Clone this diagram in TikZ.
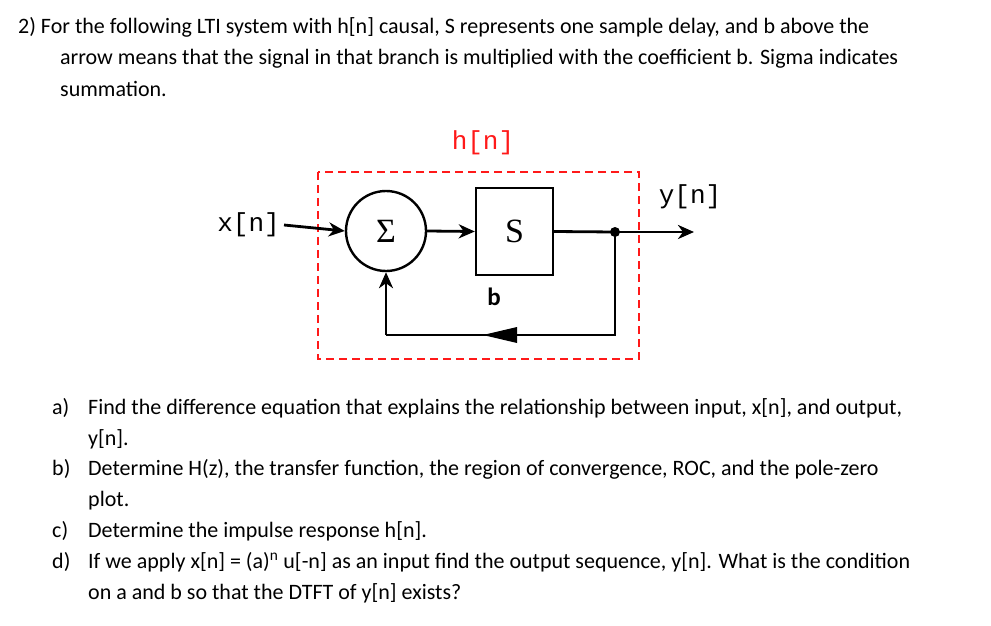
\documentclass[tikz,border=0pt]{standalone}
\usepackage{fontspec}
\setmainfont{Carlito}
\newfontfamily\mono{Liberation Mono}
\newfontfamily\serifs{Liberation Serif}
\usetikzlibrary{arrows.meta}
\begin{document}
\begin{tikzpicture}[x=1pt,y=-1pt,
  txt/.style={anchor=base west,inner sep=0pt,font=\fontsize{22}{24}\selectfont},
  lbl/.style={inner sep=0pt,font=\mono\fontsize{26}{28}\selectfont},
  sig/.style={line width=2.8pt,-{Stealth[length=16pt,width=14pt,inset=5pt]}},
  ln/.style={line width=2.8pt}]
\useasboundingbox (0,0) rectangle (991,626);
\node[txt] (t1) at (18,34) {2) For the following LTI system with h[n] causal, S represents one sample delay, and b above the};
\node[txt] (t2) at (60,65) {arrow means that the signal in that branch is multiplied with the coefficient b. Sigma indicates};
\node[txt] (t3) at (60,96) {summation.};
% diagram
\draw[red!90!white,line width=2.4pt,dash pattern=on 8pt off 5pt] (318,172) rectangle (639,359);
\node[lbl,text=red!90!white] (h) at (483,143) {h[n]};
\node[lbl,anchor=east] (x) at (280,225) {x[n]};
\node[circle,draw,line width=2.4pt,minimum size=80pt,inner sep=0pt,font=\serifs\fontsize{34}{36}\selectfont] (sum) at (386,231) {Σ};
\node[draw,line width=2.4pt,minimum width=77pt,minimum height=87pt,inner sep=0pt,font=\serifs\fontsize{34}{36}\selectfont] (S) at (514.5,231.5) {S};
\coordinate (d) at (615,232);
\coordinate (yout) at (694,232);
\coordinate (fb1) at (615,335);
\coordinate (fb2) at (386,335);
\node[lbl] (y) at (690,197) {y[n]};
\node[font=\bfseries\fontsize{25}{26}\selectfont,inner sep=0pt] (b) at (494,297) {b};
\draw[sig] (x.east)++(4,0) -- (sum.west);
\draw[sig] (sum.east) -- (S.west);
\draw[ln] (S.east) -- (d);
\draw[sig] (d) -- (yout);
\fill (d) circle (5pt);
\draw[ln] (d) -- (fb1) -- (fb2);
\draw[sig] (fb2) -- (sum.south);
\fill (483,335) -- (517,327) -- (517,343) -- cycle;
% questions
\node[txt] (qa) at (52,414) {a)};
\node[txt] (qat) at (88,414) {Find the difference equation that explains the relationship between input, x[n], and output,};
\node[txt] (qat2) at (88,445) {y[n].};
\node[txt] (qb) at (52,475) {b)};
\node[txt] (qbt) at (88,475) {Determine H(z), the transfer function, the region of convergence, ROC, and the pole-zero};
\node[txt] (qbt2) at (88,506) {plot.};
\node[txt] (qc) at (52,537) {c)};
\node[txt] (qct) at (88,537) {Determine the impulse response h[n].};
\node[txt] (qd) at (52,568) {d)};
\node[txt] (qdt) at (88,568) {If we apply x[n] = (a)\textsuperscript{n} u[-n] as an input find the output sequence, y[n]. What is the condition};
\node[txt] (qdt2) at (88,599) {on a and b so that the DTFT of y[n] exists?};
\end{tikzpicture}
\end{document}
